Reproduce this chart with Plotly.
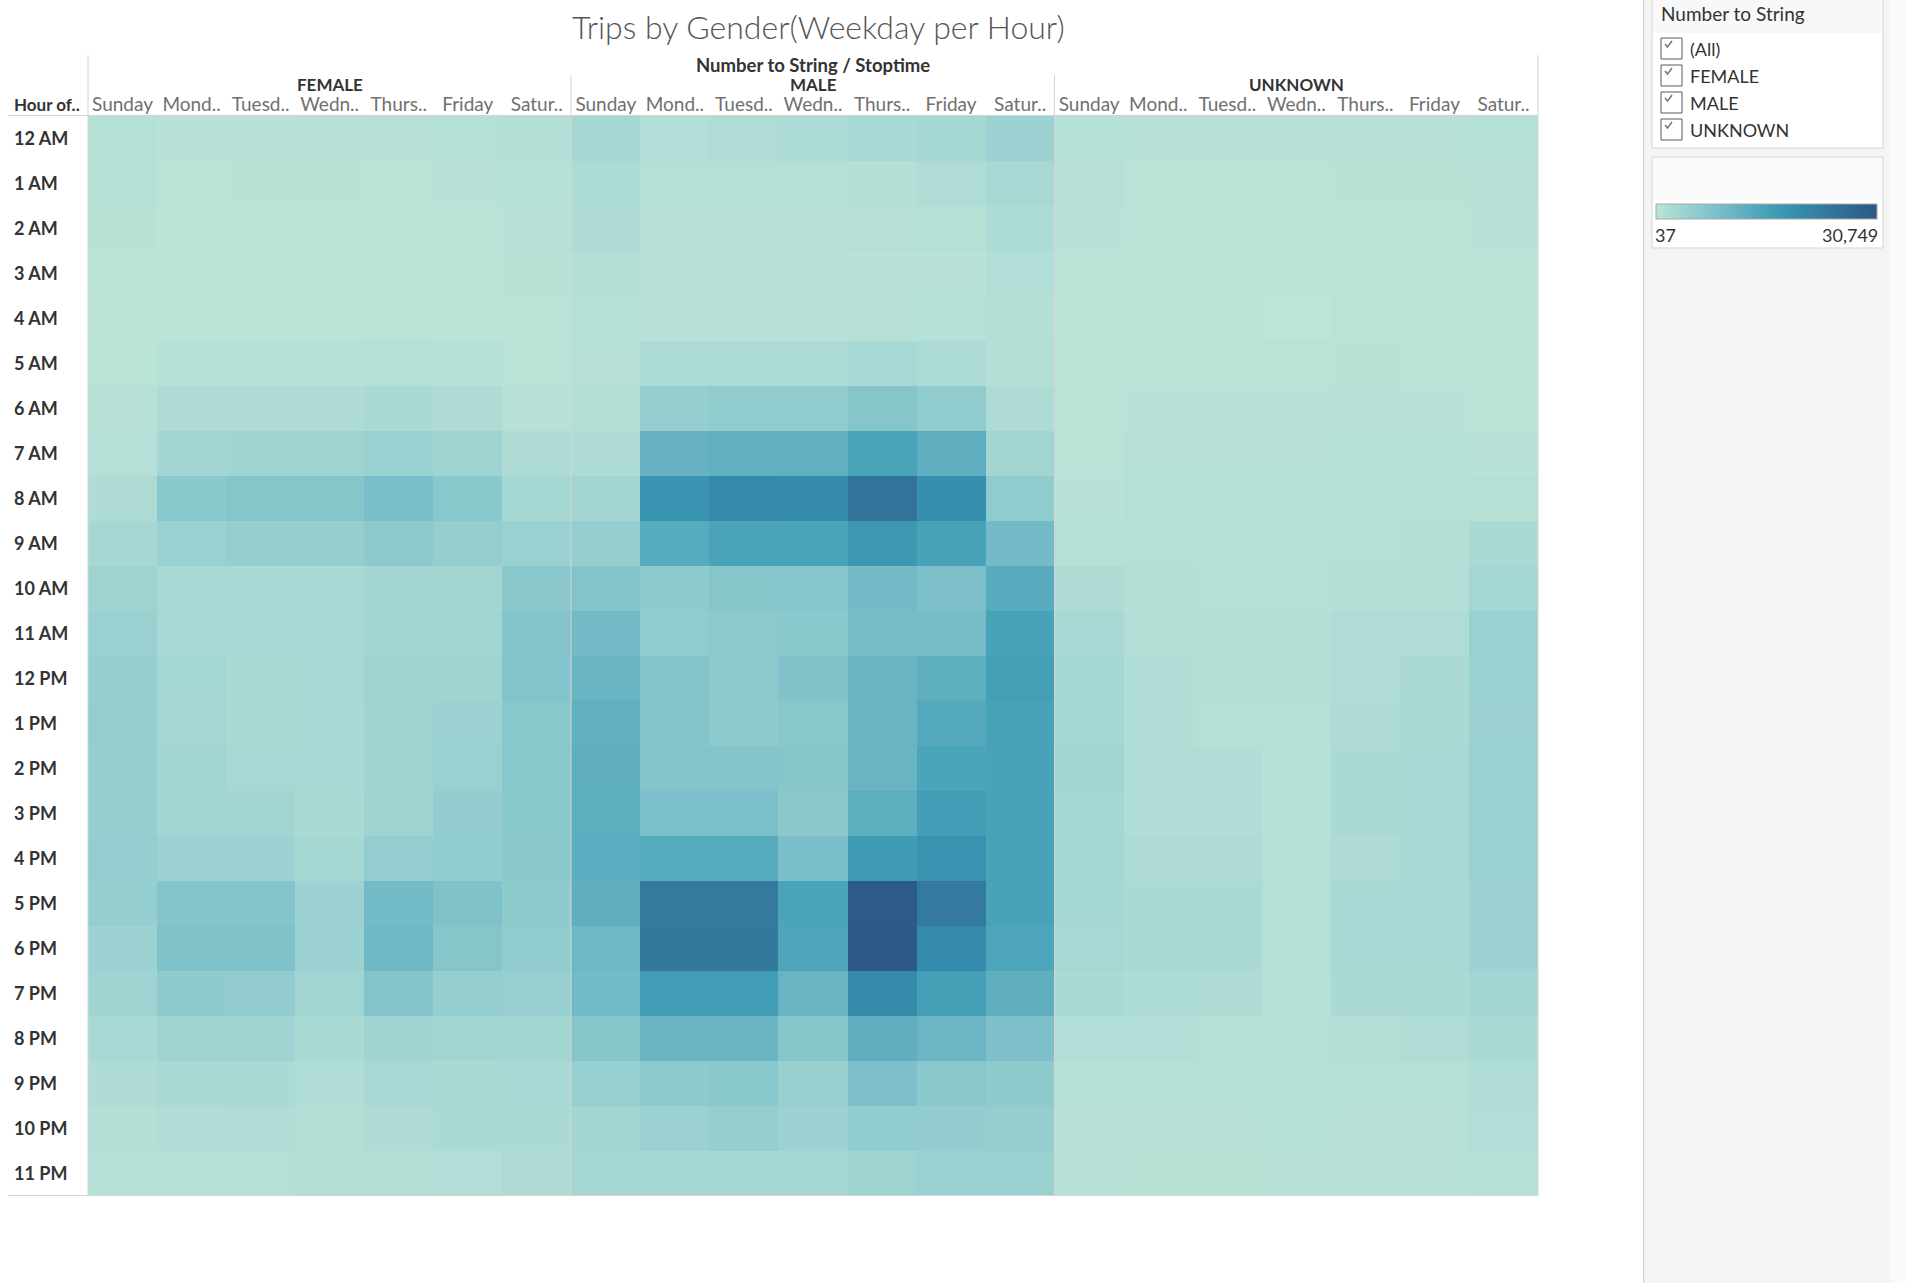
import numpy as np
import plotly.graph_objects as go

# trips per stop hour, one row per hour (12 AM .. 11 PM), columns Sunday .. Saturday
hours = ["12 AM", "1 AM", "2 AM", "3 AM", "4 AM", "5 AM", "6 AM", "7 AM", "8 AM",
         "9 AM", "10 AM", "11 AM", "12 PM", "1 PM", "2 PM", "3 PM", "4 PM", "5 PM",
         "6 PM", "7 PM", "8 PM", "9 PM", "10 PM", "11 PM"]
day_ticks = ["Sunday", "Mond..", "Tuesd..", "Wedn..", "Thurs..", "Friday", "Satur.."]
genders = ["FEMALE", "MALE", "UNKNOWN"]

female = [
    [900, 500, 550, 600, 750, 800, 1100],
    [700, 250, 350, 350, 320, 450, 700],
    [400, 180, 220, 220, 220, 250, 500],
    [250, 150, 150, 160, 170, 150, 350],
    [200, 200, 200, 220, 230, 200, 250],
    [300, 700, 700, 700, 850, 700, 300],
    [600, 1700, 1700, 1650, 2100, 1700, 600],
    [800, 3000, 3500, 3500, 4300, 3400, 1600],
    [1700, 6500, 7000, 7000, 8800, 6500, 2800],
    [2700, 4400, 5000, 5000, 6000, 5000, 4400],
    [3700, 2300, 2400, 2400, 3000, 3000, 6400],
    [4300, 2400, 2400, 2400, 3000, 3200, 7400],
    [5000, 2600, 2200, 2500, 3500, 3800, 7500],
    [5200, 2700, 2200, 2300, 3500, 4100, 6700],
    [5000, 3000, 2500, 2400, 3400, 4400, 6700],
    [5000, 3000, 3000, 2100, 3800, 5300, 6700],
    [5100, 4100, 3900, 2600, 5100, 5400, 6400],
    [5000, 7300, 7300, 3900, 9600, 7800, 5800],
    [4000, 8000, 7900, 3900, 10200, 7000, 5500],
    [3400, 5700, 5300, 3300, 7200, 5000, 4600],
    [2400, 3500, 3400, 2100, 3500, 3300, 3100],
    [1600, 2200, 2200, 1400, 2500, 2200, 2300],
    [1000, 1400, 1500, 1200, 1700, 2000, 2000],
    [800, 900, 800, 1000, 1100, 1300, 1600],
]

male = [
    [2700, 1300, 1500, 1800, 2300, 2600, 3900],
    [1800, 800, 800, 800, 1100, 1500, 2500],
    [1600, 600, 600, 650, 750, 900, 1800],
    [1100, 500, 450, 500, 500, 550, 1300],
    [800, 600, 600, 600, 650, 700, 1100],
    [600, 1900, 1900, 1900, 2300, 1800, 1000],
    [1000, 5000, 5500, 5500, 7000, 5500, 1600],
    [1600, 11300, 12000, 12000, 14800, 12300, 3300],
    [3000, 18300, 20300, 20100, 24800, 19300, 5500],
    [5000, 13300, 14800, 14800, 17300, 15000, 9400],
    [7400, 5800, 7000, 7100, 9400, 8300, 13000],
    [9500, 5500, 6000, 6500, 9200, 9200, 15000],
    [10800, 7300, 6000, 7600, 10900, 12500, 16000],
    [12000, 7300, 6000, 6700, 10900, 13600, 15100],
    [12100, 7400, 7400, 7000, 11000, 14700, 15100],
    [12500, 8600, 8600, 6400, 12500, 16200, 15100],
    [12600, 13300, 13300, 8700, 16800, 18600, 15100],
    [12200, 23700, 23700, 14700, 30200, 23500, 15000],
    [10200, 23900, 23900, 14500, 30749, 20000, 14300],
    [9800, 16300, 16300, 11000, 20200, 15700, 12300],
    [7000, 10800, 10800, 7000, 12100, 10700, 8100],
    [4700, 6000, 6500, 4500, 8300, 6400, 5800],
    [3100, 4100, 4900, 3900, 5400, 5300, 4900],
    [2600, 2600, 2600, 2600, 3800, 4300, 4300],
]

unknown = [
    [700, 650, 650, 650, 650, 650, 850],
    [650, 250, 250, 250, 400, 400, 600],
    [550, 280, 280, 280, 300, 250, 550],
    [300, 250, 250, 250, 250, 250, 300],
    [200, 220, 220, 37, 220, 220, 230],
    [250, 300, 300, 300, 350, 250, 250],
    [250, 450, 450, 450, 500, 500, 300],
    [300, 650, 650, 650, 700, 700, 450],
    [550, 900, 900, 900, 900, 900, 850],
    [900, 900, 900, 900, 900, 950, 2100],
    [1700, 1100, 900, 900, 1100, 1100, 2900],
    [2400, 1200, 1000, 1000, 1500, 1500, 4300],
    [2600, 1400, 950, 1000, 1500, 2000, 4300],
    [2800, 1400, 900, 900, 1600, 2100, 4100],
    [3000, 1400, 1400, 900, 2000, 2300, 4300],
    [2800, 1400, 1400, 900, 2000, 2400, 4400],
    [2800, 1700, 1700, 900, 1700, 2400, 4400],
    [2600, 2000, 2000, 900, 2300, 2400, 4000],
    [2500, 2000, 2000, 900, 2300, 2400, 3900],
    [2100, 1800, 1700, 900, 2000, 2100, 3000],
    [1300, 1300, 900, 900, 1100, 1500, 2200],
    [800, 800, 800, 800, 900, 900, 1500],
    [650, 650, 650, 700, 750, 750, 1300],
    [650, 400, 400, 450, 600, 600, 900],
]

blue_teal = ["#bce4d8", "#aedcd5", "#a1d5d2", "#95cecf", "#89c8cc", "#7ec1ca",
             "#72bac6", "#66b2c2", "#59acbe", "#4ba5ba", "#419eb6", "#3b96b2",
             "#358ead", "#3586a7", "#347ea1", "#32779b", "#316f96", "#2f6790",
             "#2d608a", "#2c5985"]
colorscale = [[i / (len(blue_teal) - 1), c] for i, c in enumerate(blue_teal)]

z = np.hstack([np.array(female), np.array(male), np.array(unknown)])
zmin, zmax = int(z.min()), int(z.max())
ncol = z.shape[1]
xs = list(range(ncol))

# page geometry in screen pixels (body margin is removed after load)
W, H = 1906, 1283


def px(x):
    return x / W


def py(y):
    return 1 - y / H


FONT = "Lato"
DARK = "#333333"
GRID = "#d4d4d4"

fig = go.Figure()
fig.add_trace(go.Heatmap(
    z=z, x=xs, y=hours,
    colorscale=colorscale, zmin=zmin, zmax=zmax,
    xgap=0, ygap=0,
    hovertemplate="%{y}<br>%{z:,}<extra></extra>",
    colorbar=dict(orientation="h", x=px(1656), xanchor="left", y=py(204), yanchor="top",
                  len=221, lenmode="pixels", thickness=15, xpad=0, ypad=0,
                  outlinewidth=1, outlinecolor="#a8a8a8", showticklabels=False, ticks=""),
))

annotations = []


def label(text, x, y, size, color=DARK, xanchor="center", xref="paper", yref="paper", weight=None):
    f = dict(family=FONT, size=size, color=color)
    if weight:
        f["weight"] = weight
    annotations.append(dict(text=text, x=x, y=y, xref=xref, yref=yref, xanchor=xanchor,
                            yanchor="middle", showarrow=False, font=f))


label("Trips by Gender(Weekday per Hour)", px(818), py(26), 32, "#555555", weight=300)
label("<b>Number to String / Stoptime</b>", (ncol - 1) / 2, py(65), 18.5, xref="x")
for i, g in enumerate(genders):
    label("<b>%s</b>" % g, i * 7 + 3, py(85), 17, xref="x")
label("<b>Hour of..</b>", px(12), py(105), 17, xanchor="left")
for h in hours:
    label("<b>%s</b>" % h, px(12), h, 18, xanchor="left", yref="y")

# filter card and colour legend
label("Number to String", px(1659), py(13), 19, xanchor="left")
items = ["(All)"] + genders
for k, it in enumerate(items):
    label(it, px(1688), py(49 + 27 * k), 18, xanchor="left")
label("{:,}".format(zmin), px(1653), py(235), 18, xanchor="left")
label("{:,}".format(zmax), px(1880), py(235), 18, xanchor="right")

shapes = []


def rect(x0, y0, x1, y1, fill, line=None, layer="below"):
    shapes.append(dict(type="rect", xref="paper", yref="paper", x0=px(x0), x1=px(x1),
                       y0=py(y1), y1=py(y0), fillcolor=fill, layer=layer,
                       line=dict(color=line or fill, width=1 if line else 0)))


def hline(x0, x1, y, color=GRID):
    shapes.append(dict(type="line", xref="paper", yref="paper", x0=px(x0), x1=px(x1),
                       y0=py(y), y1=py(y), line=dict(color=color, width=1), layer="above"))


def vline(x, y0, y1, color=GRID):
    shapes.append(dict(type="line", xref="paper", yref="paper", x0=px(x), x1=px(x),
                       y0=py(y0), y1=py(y1), line=dict(color=color, width=1), layer="above"))


# side panel
rect(1643, -2, 1908, 1285, "#f4f4f4")
rect(1890, -2, 1908, 1285, "#fafafa")
vline(1643.5, -2, 1285, "#cfcfcf")
rect(1652, -2, 1883, 148, "#ffffff", "#d4d4d4")
rect(1653, -1, 1882, 33, "#f8f8f8")
rect(1652, 157, 1883, 248, "#ffffff", "#d4d4d4")
rect(1653, 158, 1882, 200, "#f9f9f9")
for k in range(len(items)):
    top = 38 + 27 * k
    rect(1661, top, 1682, top + 21, "#ffffff", "#5a5a5a", layer="above")
    shapes.append(dict(type="path", xref="paper", yref="paper", layer="above",
                       path="M %f,%f L %f,%f L %f,%f" % (px(1665), py(top + 6), px(1667.5), py(top + 9),
                                                         px(1672), py(top + 3)),
                       line=dict(color="#777777", width=1.5)))

# table rules
hline(8, 1538, 115.5)
hline(8, 1538, 1195.5)
vline(88, 55, 1195.5)
vline(1538, 55, 1195.5)
vline(571, 75, 1195.5)
vline(1054.5, 75, 1195.5)

fig.update_layout(
    width=W, height=H,
    margin=dict(l=0, r=0, t=0, b=0),
    paper_bgcolor="#ffffff", plot_bgcolor="#ffffff",
    font=dict(family=FONT, color=DARK),
    xaxis=dict(domain=[px(88), px(1538)], side="top", range=[-0.5, ncol - 0.5],
               tickvals=xs, ticktext=day_ticks * len(genders), ticks="",
               tickfont=dict(family=FONT, size=19, color="#707070"),
               showgrid=False, zeroline=False, showline=False, fixedrange=True),
    yaxis=dict(domain=[py(1195.5), py(115.5)], autorange="reversed",
               showticklabels=False, showgrid=False, zeroline=False, ticks="",
               fixedrange=True),
    annotations=annotations,
    shapes=shapes,
    showlegend=False,
)

fig.write_html("out.html", config={"displayModeBar": False},
               post_script="document.body.style.margin='0';")
